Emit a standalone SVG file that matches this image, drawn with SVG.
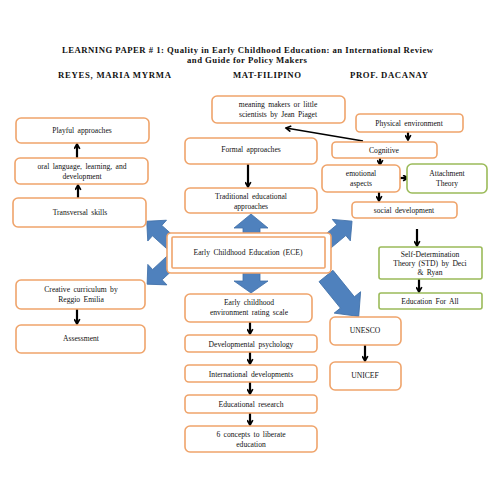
<svg xmlns="http://www.w3.org/2000/svg" width="495" height="495" viewBox="0 0 495 495">
<style>
.b{fill:#fff;stroke:#EFA46B;stroke-width:1.6}
.g{fill:#fff;stroke:#9BBB59;stroke-width:1.6}
.t{font-family:"Liberation Serif","DejaVu Serif",serif;font-size:7.6px;fill:#111;text-anchor:middle;word-spacing:1.5px}
.h{font-family:"Liberation Serif","DejaVu Serif",serif;font-size:8.7px;font-weight:bold;fill:#111}
.k{stroke:#000;stroke-width:2.2;fill:none}
.bl{fill:#4F81BD;stroke:#3F6FA8;stroke-width:0.8}
</style>
<defs>
<marker id="ah" viewBox="0 0 10 10" refX="8" refY="5" markerWidth="7" markerHeight="7" markerUnits="userSpaceOnUse" orient="auto">
<path d="M1,1 L8,5 L1,9" fill="none" stroke="#000" stroke-width="2.4"/>
</marker>
<path id="arr" d="M0,-7 L20,-7 L20,-14 L34,0 L20,14 L20,7 L0,7 Z"/>
<path id="arrBig" d="M0,-9 L34,-9 L34,-17 L52,0 L34,17 L34,9 L0,9 Z"/>
</defs>
<rect width="495" height="495" fill="#fff"/>

<g id="header">
<text class="h" x="62" y="53" textLength="371" lengthAdjust="spacing">LEARNING PAPER # 1: Quality in Early Childhood Education: an International Review</text>
<text class="h" x="187" y="63" textLength="120" lengthAdjust="spacing">and Guide for Policy Makers</text>
<text class="h" x="58" y="78" textLength="113" lengthAdjust="spacing">REYES, MARIA MYRMA</text>
<text class="h" x="233" y="78" textLength="68" lengthAdjust="spacing">MAT-FILIPINO</text>
<text class="h" x="350" y="78" textLength="78" lengthAdjust="spacing">PROF. DACANAY</text>
</g>

<g id="blue-arrows">
<polygon class="bl" points="243,234 243,228 234,228 251,214 268,228 260,228 260,234"/>
<polygon class="bl" points="243,272 260,272 260,281 268,281 251,293 234,281 243,281"/>
<use href="#arr" class="bl" transform="translate(172,244) rotate(-138)"/>
<use href="#arr" class="bl" transform="translate(172,261) rotate(137)"/>
<use href="#arr" class="bl" transform="translate(326,243) rotate(-40)"/>
<use href="#arrBig" class="bl" transform="translate(326,276) rotate(51)"/>
</g>

<g id="connectors">
<line class="k" x1="78" y1="198" x2="78" y2="185" marker-end="url(#ah)"/>
<line class="k" x1="77" y1="158" x2="77" y2="144" marker-end="url(#ah)"/>
<line class="k" x1="248" y1="164" x2="248" y2="187" marker-end="url(#ah)"/>
<line stroke="#000" stroke-width="1.4" x1="363" y1="141" x2="286" y2="128" marker-end="url(#ah)"/>
<line class="k" x1="408" y1="132" x2="408" y2="140" marker-end="url(#ah)"/>
<line class="k" x1="380" y1="158" x2="380" y2="165" marker-end="url(#ah)"/>
<line class="k" x1="400" y1="178" x2="408" y2="178" marker-end="url(#ah)"/>
<line class="k" x1="379" y1="192" x2="379" y2="201" marker-end="url(#ah)"/>
<line class="k" x1="417" y1="229" x2="417" y2="246" marker-end="url(#ah)"/>
<line class="k" x1="419" y1="276" x2="419" y2="292" marker-end="url(#ah)"/>
<line class="k" x1="365" y1="345" x2="365" y2="361" marker-end="url(#ah)"/>
<line class="k" x1="77" y1="309" x2="77" y2="324" marker-end="url(#ah)"/>
<line class="k" x1="250" y1="322" x2="250" y2="334" marker-end="url(#ah)"/>
<line class="k" x1="250" y1="352" x2="250" y2="364" marker-end="url(#ah)"/>
<line class="k" x1="250" y1="382" x2="250" y2="394" marker-end="url(#ah)"/>
<line class="k" x1="250" y1="413" x2="250" y2="425" marker-end="url(#ah)"/>
</g>

<g id="playful"><rect class="b" x="16" y="118" width="133" height="25" rx="5"/><text class="t" x="82" y="133">Playful approaches</text></g>
<g id="oral"><rect class="b" x="15" y="158" width="133" height="26" rx="5"/><text class="t" x="82" y="169">oral language, learning, and</text><text class="t" x="82" y="179">development</text></g>
<g id="transversal"><rect class="b" x="13" y="198" width="133" height="29" rx="5"/><text class="t" x="80" y="215">Transversal skills</text></g>
<g id="meaning"><rect class="b" x="212" y="96" width="133" height="27" rx="5"/><text class="t" x="278" y="107">meaning makers or little</text><text class="t" x="278" y="117">scientists by Jean Piaget</text></g>
<g id="formal"><rect class="b" x="185" y="138" width="132" height="26" rx="5"/><text class="t" x="251" y="152">Formal approaches</text></g>
<g id="traditional"><rect class="b" x="185" y="188" width="132" height="25" rx="5"/><text class="t" x="251" y="199">Traditional educational</text><text class="t" x="251" y="209">approaches</text></g>
<g id="physical"><rect class="b" x="356" y="114" width="107" height="18" rx="4"/><text class="t" x="409" y="125.5">Physical environment</text></g>
<g id="cognitive"><rect class="b" x="332" y="142" width="105" height="16" rx="4"/><text class="t" x="384" y="153">Cognitive</text></g>
<g id="emotional"><rect class="b" x="322" y="165" width="78" height="27" rx="5"/><text class="t" x="361" y="176">emotional</text><text class="t" x="361" y="186">aspects</text></g>
<g id="attachment"><rect class="g" x="407" y="164" width="80" height="29" rx="5"/><text class="t" x="447" y="176">Attachment</text><text class="t" x="447" y="186">Theory</text></g>
<g id="social"><rect class="b" x="352" y="202" width="105" height="16" rx="4"/><text class="t" x="404" y="213">social development</text></g>
<g id="sdt"><rect class="g" x="379" y="247" width="103" height="32" rx="2"/><text class="t" x="430" y="257">Self-Determination</text><text class="t" x="430" y="266">Theory (STD) by Deci</text><text class="t" x="430" y="275">&amp; Ryan</text></g>
<g id="efa"><rect class="g" x="379" y="293" width="103" height="16" rx="2"/><text class="t" x="430" y="304">Education For All</text></g>
<g id="ece"><rect class="b" x="167" y="233" width="164" height="40" rx="4"/><rect class="b" x="172" y="237" width="153" height="31" rx="1"/><text class="t" x="248" y="255">Early Childhood Education (ECE)</text></g>
<g id="unesco"><rect class="b" x="330" y="317" width="71" height="28" rx="5"/><text class="t" x="365" y="333">UNESCO</text></g>
<g id="unicef"><rect class="b" x="330" y="362" width="71" height="28" rx="5"/><text class="t" x="365" y="378">UNICEF</text></g>
<g id="creative"><rect class="b" x="16" y="280" width="129" height="29" rx="5"/><text class="t" x="81" y="292">Creative curriculum by</text><text class="t" x="81" y="302">Reggio Emilia</text></g>
<g id="assessment"><rect class="b" x="16" y="325" width="129" height="28" rx="5"/><text class="t" x="81" y="341">Assessment</text></g>
<g id="rating"><rect class="b" x="185" y="294" width="127" height="28" rx="5"/><text class="t" x="249" y="305">Early childhood</text><text class="t" x="249" y="315">environment rating scale</text></g>
<g id="devpsych"><rect class="b" x="185" y="335" width="132" height="17" rx="4"/><text class="t" x="251" y="346.5">Developmental psychology</text></g>
<g id="intl"><rect class="b" x="185" y="365" width="132" height="17" rx="4"/><text class="t" x="251" y="376.5">International developments</text></g>
<g id="research"><rect class="b" x="185" y="395" width="132" height="18" rx="4"/><text class="t" x="251" y="407">Educational research</text></g>
<g id="concepts"><rect class="b" x="185" y="426" width="132" height="26" rx="5"/><text class="t" x="251" y="437">6 concepts to liberate</text><text class="t" x="251" y="447">education</text></g>
</svg>
